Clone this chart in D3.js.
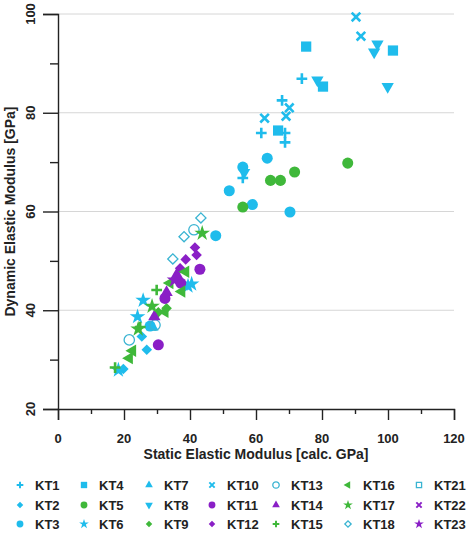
<!DOCTYPE html>
<html lang="en">
<head>
  <meta charset="UTF-8">
  <title>Dynamic vs static elastic modulus</title>
  <style>
    body { margin: 0; background: #fff; }
    text { font-family: 'Liberation Sans', Arial, sans-serif; font-weight: bold; fill: #222; }
  </style>
</head>
<body>
  <svg id="svg" width="474" height="534"></svg>

  <script src="https://d3js.org/d3.v7.min.js"></script>
  <script>
    // values: [static, dynamic] in GPa
    const KT1 = [[73.9, 86.9], [67.9, 82.5], [61.6, 75.9], [68.8, 75.9], [68.8, 74.0], [56.0, 66.8]]
    const KT2 = [[25.4, 34.7], [26.9, 32.0], [19.8, 28.1]]
    const KT3 = [[63.4, 70.8], [56.0, 69.0], [51.9, 64.2], [58.9, 61.4], [70.3, 59.9], [47.8, 55.1], [27.9, 36.8]]
    const KT4 = [[75.2, 93.4], [101.5, 92.6], [80.3, 85.3], [66.7, 76.4]]
    const KT5 = [[87.8, 69.8], [71.7, 68.0], [64.4, 66.3], [67.4, 66.3], [56.0, 60.9]]
    const KT6 = [[40.5, 45.3], [39.4, 44.9], [25.8, 42.0], [24.1, 38.7], [18.3, 27.9]]
    const KT7 = [[28.6, 36.6]]
    const KT8 = [[96.8, 93.9], [95.8, 92.3], [78.6, 86.6], [99.9, 85.3], [56.4, 67.9]]
    const KT9 = [[32.9, 40.4], [30.4, 39.6]]
    const KT10 = [[90.3, 99.4], [91.8, 95.5], [70.1, 81.0], [62.6, 78.9], [69.1, 79.3]]
    const KT11 = [[43.0, 48.3], [37.2, 45.5], [32.4, 42.4], [30.4, 33.0]]
    const KT12 = [[41.5, 52.7], [42.0, 51.2], [38.7, 50.3], [37.0, 48.5]]
    const KT13 = [[41.2, 56.3], [29.4, 37.0], [21.6, 34.0]]
    const KT14 = [[36.0, 47.2], [32.9, 43.6], [29.2, 38.7]]
    const KT15 = [[29.9, 44.1], [24.9, 36.6], [17.3, 28.4]]
    const KT16 = [[38.7, 47.8], [33.9, 45.5], [37.5, 43.8], [32.4, 39.7], [22.6, 31.8], [21.6, 30.3]]
    const KT17 = [[43.7, 55.6], [28.5, 40.8], [24.3, 36.2]]
    const KT18 = [[43.3, 58.7], [38.2, 54.9], [34.8, 50.4]]
    const KT21 = []
    const KT22 = []
    const KT23 = [[35.3, 46.1]]

    const seriesNames = ['KT1', 'KT2', 'KT3', 'KT4', 'KT5', 'KT6', 'KT7', 'KT8', 'KT9', 'KT10', 'KT11', 'KT12',
      'KT13', 'KT14', 'KT15', 'KT16', 'KT17', 'KT18', 'KT21', 'KT22', 'KT23']
    const seriesData = { KT1, KT2, KT3, KT4, KT5, KT6, KT7, KT8, KT9, KT10, KT11, KT12,
      KT13, KT14, KT15, KT16, KT17, KT18, KT21, KT22, KT23 }

    const xTicks = [0, 20, 40, 60, 80, 100, 120]
    const yTicks = [20, 40, 60, 80, 100]

    // marker look for each series
    const CYAN = '#1fbcec'
    const GREEN = '#3fb83a'
    const PURPLE = '#8a1fc6'
    const OPEN = '#3ab4d2'
    const look = {
      KT1: ['plus', CYAN], KT2: ['diamond', CYAN], KT3: ['circle', CYAN], KT4: ['square', CYAN],
      KT5: ['circle', GREEN], KT6: ['star', CYAN], KT7: ['up', CYAN], KT8: ['down', CYAN],
      KT9: ['diamond', GREEN], KT10: ['times', CYAN], KT11: ['circle', PURPLE], KT12: ['diamond', PURPLE],
      KT13: ['ocircle', OPEN], KT14: ['up', PURPLE], KT15: ['plus', GREEN], KT16: ['left', GREEN],
      KT17: ['star', GREEN], KT18: ['odiamond', OPEN], KT21: ['osquare', OPEN], KT22: ['times', PURPLE],
      KT23: ['star', PURPLE]
    }

    const plusType = {
      draw(ctx, size) {
        const r = Math.sqrt(size) / 2
        ctx.moveTo(-r, 0); ctx.lineTo(r, 0)
        ctx.moveTo(0, -r); ctx.lineTo(0, r)
      }
    }
    const timesType = {
      draw(ctx, size) {
        const r = Math.sqrt(size) / 2.5
        ctx.moveTo(-r, -r); ctx.lineTo(r, r)
        ctx.moveTo(-r, r); ctx.lineTo(r, -r)
      }
    }

    // shape -> [symbol type, area, rotation, stroked?, hollow?]
    const shapes = {
      circle: [d3.symbolCircle, 96, 0, false, false],
      square: [d3.symbolSquare, 105, 0, false, false],
      diamond: [d3.symbolSquare, 56, 45, false, false],
      up: [d3.symbolTriangle, 66, 0, false, false],
      down: [d3.symbolTriangle, 66, 180, false, false],
      left: [d3.symbolTriangle, 66, -90, false, false],
      star: [d3.symbolStar, 76, 0, false, false],
      plus: [plusType, 115, 0, true, false],
      times: [timesType, 115, 0, true, false],
      ocircle: [d3.symbolCircle, 84, 0, false, true],
      odiamond: [d3.symbolSquare, 52, 45, false, true],
      osquare: [d3.symbolSquare, 70, 0, false, true]
    }

    function drawMarker(sel, name, x, y, k) {
      const [shape, color] = look[name]
      const [type, area, rot, stroked, hollow] = shapes[shape]
      const p = sel.append('path')
        .attr('d', d3.symbol(type, area * k * k)())
        .attr('transform', `translate(${x},${y}) rotate(${rot})`)
      if (stroked) {
        p.attr('fill', 'none').attr('stroke', color).attr('stroke-width', 2.6 * Math.max(k, 0.75))
      } else if (hollow) {
        p.attr('fill', 'none').attr('stroke', color).attr('stroke-width', 1.3)
      } else {
        p.attr('fill', color)
      }
    }

    const svg = d3.select('#svg')

    const xScale = d3.scaleLinear().domain([0, 120]).range([58, 454])
    const yScale = d3.scaleLinear().domain([20, 100]).range([409, 14])

    // gridlines
    svg.append('g')
      .selectAll('line')
      .data(yTicks.filter(t => t > 20))
      .enter()
      .append('line')
      .attr('x1', xScale(0))
      .attr('x2', xScale(120))
      .attr('y1', d => yScale(d))
      .attr('y2', d => yScale(d))
      .attr('stroke', '#d6d6d6')
      .attr('stroke-width', 1)

    // y axis: major ticks with labels, minor ticks between
    const yAxis = svg.append('g')
      .attr('transform', `translate(${xScale(0)},0)`)
      .call(d3.axisLeft(yScale).tickValues(yTicks).tickSize(15).tickFormat(''))
    yAxis.append('g')
      .call(d3.axisLeft(yScale).tickValues(d3.range(30, 100, 20)).tickSize(8).tickFormat(''))
    yAxis.selectAll('.domain').attr('stroke', '#222').attr('stroke-width', 1.4)
    yAxis.selectAll('.tick line').attr('stroke', '#222').attr('stroke-width', 1.4)
    yAxis.selectAll('g > .domain').filter((d, i) => i > 0).remove()

    svg.append('g')
      .selectAll('text')
      .data(yTicks)
      .enter()
      .append('text')
      .attr('transform', d => `translate(35,${yScale(d)}) rotate(-90)`)
      .attr('text-anchor', 'middle')
      .style('font-size', '13px')
      .text(d => d)

    // x axis
    const xAxis = svg.append('g')
      .attr('transform', `translate(0,${yScale(20)})`)
      .call(d3.axisBottom(xScale).tickValues(xTicks).tickSize(11).tickFormat(''))
    xAxis.append('g')
      .call(d3.axisBottom(xScale).tickValues(d3.range(10, 120, 20)).tickSize(5).tickFormat(''))
    xAxis.selectAll('.domain').attr('stroke', '#222').attr('stroke-width', 1.4)
    xAxis.selectAll('.tick line').attr('stroke', '#222').attr('stroke-width', 1.4)
    xAxis.selectAll('g > .domain').filter((d, i) => i > 0).remove()

    svg.append('g')
      .selectAll('text')
      .data(xTicks)
      .enter()
      .append('text')
      .attr('x', d => xScale(d))
      .attr('y', 443)
      .attr('text-anchor', 'middle')
      .style('font-size', '13px')
      .text(d => d)

    // axis titles
    svg.append('text')
      .attr('x', (xScale(0) + xScale(120)) / 2)
      .attr('y', 459)
      .attr('text-anchor', 'middle')
      .style('font-size', '14px')
      .text('Static Elastic Modulus [calc. GPa]')

    svg.append('text')
      .attr('transform', `translate(15,${(yScale(20) + yScale(100)) / 2}) rotate(-90)`)
      .attr('text-anchor', 'middle')
      .style('font-size', '14px')
      .text('Dynamic Elastic Modulus [GPa]')

    // points
    const plot = svg.append('g')
    seriesNames.forEach(name => {
      seriesData[name].forEach(d => drawMarker(plot, name, xScale(d[0]), yScale(d[1]), 1))
    })

    // legend: 7 columns x 3 rows, filled column by column
    const legendCols = [20, 84, 149, 212, 276, 348, 419]
    const legendRows = [485, 505, 524]
    const legend = svg.append('g')
    seriesNames.forEach((name, i) => {
      const cx = legendCols[Math.floor(i / 3)]
      const cy = legendRows[i % 3]
      drawMarker(legend, name, cx, cy, 0.62)
      legend.append('text')
        .attr('x', cx + 15)
        .attr('y', cy + 5)
        .style('font-size', '13px')
        .text(name)
    })
  </script>
</body>
</html>
